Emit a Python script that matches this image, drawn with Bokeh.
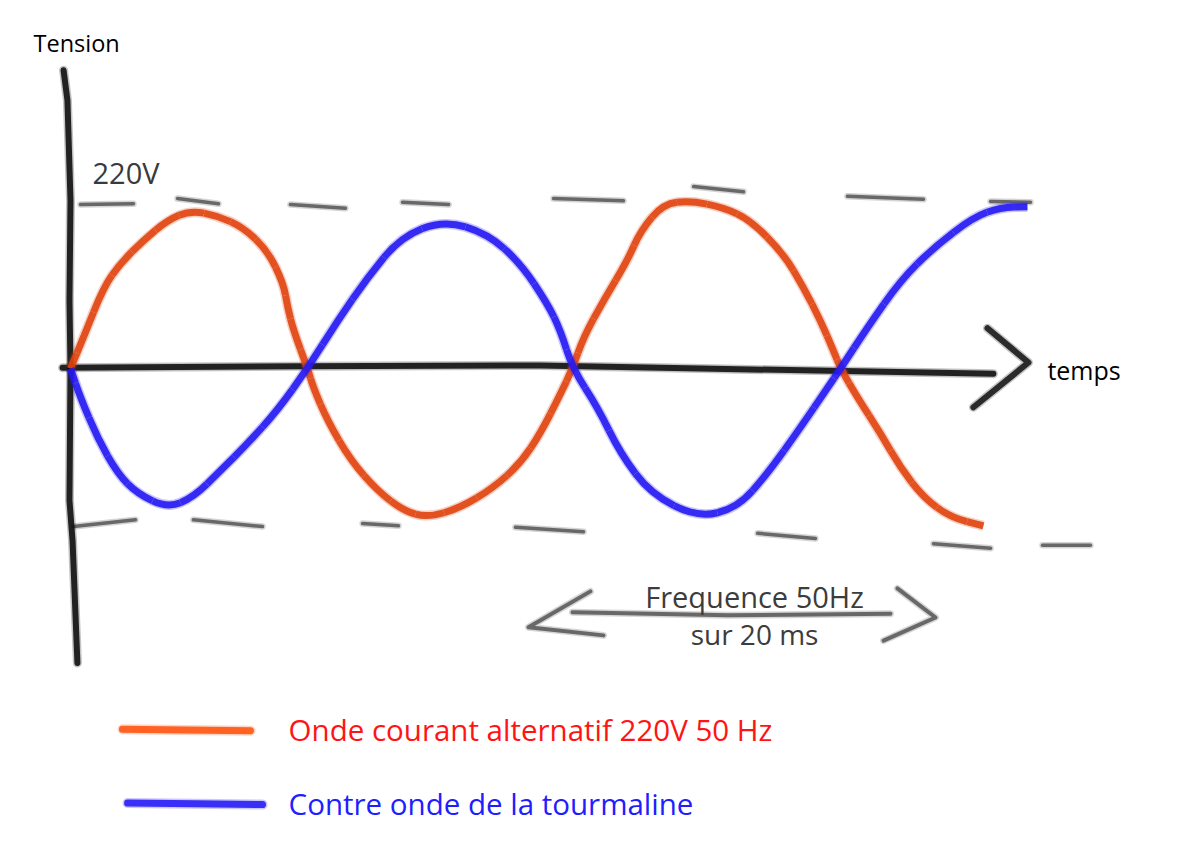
from bokeh.plotting import figure
from bokeh.models import Range1d
from bokeh.core.properties import value
from bokeh.embed import file_html
from bokeh.resources import INLINE

# ---------------- data (time in ms, tension in V) ----------------
red_t = [0, 0.51, 1.29, 1.95, 2.85, 3.79, 4.69, 5.74, 6.76, 7.70, 8.32, 8.48, 8.71, 9.26,
         9.49, 10.04, 10.94, 11.99, 13.01, 13.95, 15.23, 16.52, 17.58, 18.36, 19.14, 19.61,
         20.04, 20.82, 21.76, 22.27, 23.16, 24.22, 25.51, 26.56, 27.85, 28.63, 29.30, 29.80,
         30.08, 30.74, 31.64, 32.42, 33.32, 34.38, 35.66]
red_v = [0, 42, 109, 141, 172, 199, 212, 205, 189, 158, 114, 82, 51, 0,
         -26, -70, -123, -164, -191, -200, -187, -160, -127, -87, -34, 0,
         42, 91, 145, 185, 221, 225, 216, 199, 154, 109, 64, 24,
         0, -39, -87, -133, -173, -200, -211]

blue_t = [0, 0.39, 1.05, 1.84, 2.62, 3.79, 4.80, 5.86, 6.91, 8.09, 9.26, 10.43, 11.60,
          12.89, 14.57, 16.29, 17.58, 18.63, 19.14, 19.61, 20.59, 21.48, 22.66, 24.49,
          26.05, 27.23, 28.52, 29.57, 30.08, 31.13, 32.42, 33.71, 35.27, 36.33, 37.38]
blue_v = [0, -39, -93, -141, -168, -187, -173, -137, -101, -56, 0, 64, 122,
          176, 199, 181, 141, 87, 51, 0, -52, -114, -168, -200,
          -187, -141, -79, -26, 0, 55, 118, 162, 203, 216, 217]

# hand-drawn reference dashes at +/-220 V (start/end of each stroke)
ref_t0 = [0.39, 4.18, 8.59, 12.97, 18.87, 24.34, 30.35, 35.94,
          0.12, 4.80, 11.41, 17.38, 26.84, 33.71, 37.97]
ref_v0 = [220, 228, 220, 223, 228, 244, 231, 224,
          -212, -203, -208, -213, -221, -235, -237]
ref_t1 = [2.46, 5.78, 10.74, 14.77, 21.60, 26.29, 33.32, 37.50,
          2.54, 7.50, 12.81, 20.04, 29.10, 35.94, 39.84]
ref_v1 = [221, 221, 215, 220, 225, 237, 227, 223,
          -203, -212, -211, -219, -228, -241, -237]

# sketched axes
vaxis_t = [-0.27, -0.12, 0.0, -0.04, 0.0, -0.04, 0.08, 0.27]
vaxis_v = [400, 360, 225, 91, 0, -177, -231, -395]
haxis_t = [-0.31, 8.98, 18.36, 24.61, 36.05]
haxis_v = [1, 3, 4, 0, -7]
harrow_t = [35.82, 37.42, 35.27]
harrow_v = [54, 8, -52]

# period arrow ("Frequence 50Hz sur 20 ms")
per_shaft_t = [19.61, 25.66, 32.03]
per_shaft_v = [-327, -331, -329]
per_left_t = [20.31, 17.89, 20.82]
per_left_v = [-299, -347, -358]
per_right_t = [32.30, 33.79, 31.76]
per_right_v = [-295, -334, -365]

# legend swatches
leg_red_t = [2.03, 4.5, 7.03]
leg_red_v = [-484, -485, -486]
leg_blue_t = [2.23, 4.9, 7.5]
leg_blue_v = [-583, -584, -585]

labels = ["Tension", "220V", "temps", "Frequence 50Hz", "sur 20 ms",
          "Onde courant alternatif 220V 50 Hz", "Contre onde de la tourmaline"]

# ---------------- figure ----------------
PX_MS = 25.6          # pixels per ms
PX_V = 164.0 / 220.0  # pixels per volt
W, H = 1184, 841
OX, OY = 70, 368      # origin position inside the frame (px)

p = figure(width=W, height=H, output_backend="svg", toolbar_location=None,
           x_range=Range1d(-OX / PX_MS, (W - OX) / PX_MS),
           y_range=Range1d(-(H - OY) / PX_V, OY / PX_V),
           x_axis_location=None, y_axis_location=None, min_border=0)
p.grid.visible = False
p.outline_line_color = None
p.background_fill_color = "white"
p.border_fill_color = "white"


def smooth(xs, ys, color, width, alpha):
    """Draw a path through the read points as chained quadratic curves."""
    mx = [(xs[i] + xs[i + 1]) / 2 for i in range(len(xs) - 1)]
    my = [(ys[i] + ys[i + 1]) / 2 for i in range(len(ys) - 1)]
    kw = dict(line_color=color, line_width=width, line_alpha=alpha)
    p.line([xs[0], mx[0]], [ys[0], my[0]], line_cap="butt", **kw)
    p.line([mx[-1], xs[-1]], [my[-1], ys[-1]], line_cap="butt", **kw)
    p.quadratic(x0=mx[:-1], y0=my[:-1], x1=mx[1:], y1=my[1:],
                cx=xs[1:-1], cy=ys[1:-1], line_cap="butt", **kw)


def sketch_line(xs, ys, color, width, alpha=0.9, curved=False):
    if curved:
        smooth(xs, ys, color, width + 3, alpha * 0.28)
        smooth(xs, ys, color, width, alpha)
    else:
        p.line(xs, ys, line_color=color, line_width=width + 3, line_alpha=alpha * 0.28,
               line_cap="round", line_join="round")
        p.line(xs, ys, line_color=color, line_width=width, line_alpha=alpha,
               line_cap="round", line_join="round")


# reference dashes
p.segment(ref_t0, ref_v0, ref_t1, ref_v1, line_color="#666666", line_width=6.5,
          line_alpha=0.28, line_cap="round")
p.segment(ref_t0, ref_v0, ref_t1, ref_v1, line_color="#555555", line_width=3.5,
          line_alpha=0.85, line_cap="round")

# axes
sketch_line(vaxis_t, vaxis_v, "#111111", 6)
sketch_line(haxis_t, haxis_v, "#111111", 6)
sketch_line(harrow_t, harrow_v, "#1a1a1a", 6)

# waves
sketch_line(red_t, red_v, "#E0420E", 7, curved=True)
sketch_line(blue_t, blue_v, "#2418F2", 7, curved=True)

# period arrow
sketch_line(per_shaft_t, per_shaft_v, "#555555", 4, 0.85)
sketch_line(per_left_t, per_left_v, "#555555", 4, 0.85)
sketch_line(per_right_t, per_right_v, "#555555", 4, 0.85)

# legend swatches
sketch_line(leg_red_t, leg_red_v, "#FF5512", 7)
sketch_line(leg_blue_t, leg_blue_v, "#2A1EF5", 7)

FONT = value("Open Sans")


def label(x, y, txt, size, color, align="left"):
    p.text(x=[x], y=[y], text=[txt], text_font=FONT, text_font_size=value(size),
           text_color=color, text_align=align, text_baseline="alphabetic")


label(-1.445, 437, labels[0], "23.5px", "#000000")
label(0.86, 263, labels[1], "29px", "#3a3a3a")
label(38.16, -2, labels[2], "25px", "#000000")
label(26.72, -306, labels[3], "29px", "#3c3c3c", "center")
label(26.72, -356, labels[4], "28px", "#3c3c3c", "center")
label(8.52, -484, labels[5], "29.5px", "#FF1414")
label(8.52, -584, labels[6], "29.5px", "#1E1EFF")

open("out.html", "w").write(file_html(p, INLINE))
